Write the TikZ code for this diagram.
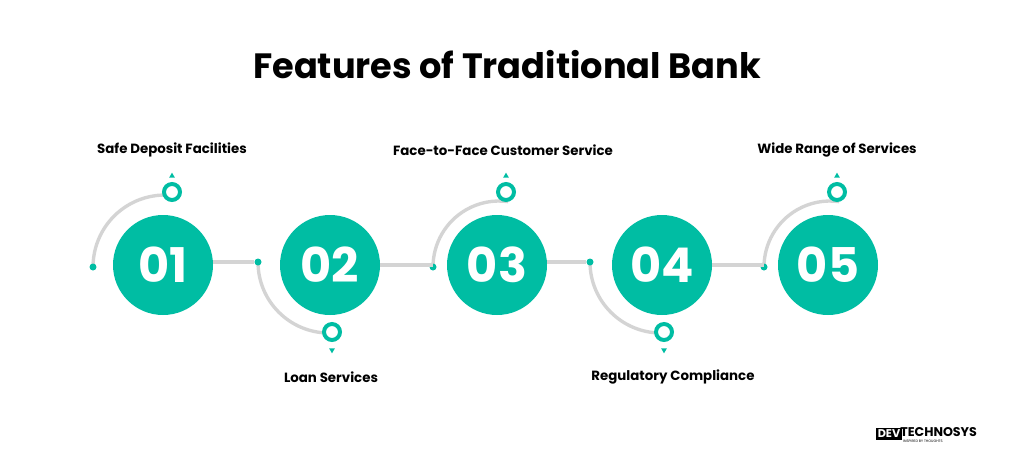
\documentclass[tikz,border=0pt]{standalone}
\usepackage{fontspec}
\setmainfont{Poppins}
\definecolor{teal}{RGB}{0,189,163}
\definecolor{arcgray}{RGB}{212,212,212}
\usetikzlibrary{shapes.geometric}
\tikzset{
  stepnode/.style={circle,fill=teal,minimum size=100*0.25mm,inner sep=0pt,text=white,font=\fontsize{34}{34}\selectfont\bfseries},
  ring/.style={circle,draw=teal,line width=2.8pt,fill=white,minimum size=16*0.25mm,inner sep=0pt},
  dot/.style={circle,fill=teal,minimum size=7*0.25mm,inner sep=0pt},
  tip/.style={isosceles triangle,isosceles triangle apex angle=60,fill=teal,minimum size=5*0.25mm,inner sep=0pt},
  label/.style={font=\fontsize{9.5}{12}\selectfont\bfseries},
  link/.style={arcgray,line width=2.4pt}
}
\begin{document}
\begin{tikzpicture}[x=0.25mm,y=-0.25mm]
\useasboundingbox (0,0) rectangle (1014,459);
\node[font=\fontsize{25}{30}\selectfont\bfseries] (title) at (507,65) {Features of Traditional Bank};
% arcs behind the steps
\foreach \i/\x/\dx in {1/163/70,3/497/64,5/828/64}{
  \draw[link] (\x-\dx,267) arc[start angle=180,end angle=278,radius=\dx+2];
}
\foreach \i/\x in {2/330,4/662}{
  \draw[link] (\x-72,262) arc[start angle=180,end angle=90,radius=71];
}
% steps
\foreach \i/\x in {1/163,2/330,3/497,4/662,5/828}{
  \node[stepnode] (s\i) at (\x,265) {0\i};
}
\foreach \i/\x/\dx in {1/163/70,3/497/64,5/828/64}{
  \node[dot] (d\i) at (\x-\dx,267) {};
  \node[ring] (r\i) at (\x+9,192) {};
  \node[tip,shape border rotate=90] (t\i) at (\x+9,176) {};
}
\foreach \i/\x in {2/330,4/662}{
  \node[dot] (d\i) at (\x-72,262) {};
  \node[ring] (r\i) at (\x+2,332) {};
  \node[tip,shape border rotate=-90] (t\i) at (\x+2,350) {};
}
% links
\draw[link] (s1.east |- d2) -- (d2);
\draw[link] (s2.east) -- (d3 |- s2.east);
\draw[link] (s3.east |- d4) -- (d4);
\draw[link] (s4.east) -- (d5 |- s4.east);
% labels
\node[label] (l1) at (172,150) {Safe Deposit Facilities};
\node[label] (l2) at (331,377) {Loan Services};
\node[label] (l3) at (503,150) {Face-to-Face Customer Service};
\node[label] (l4) at (673,377) {Regulatory Compliance};
\node[label] (l5) at (837,150) {Wide Range of Services};
% logo
\node[fill=black,text=white,font=\fontsize{8}{8}\selectfont\bfseries,inner sep=1.5pt] (dev) at (889,434) {DEV};
\node[anchor=west,font=\fontsize{9}{9}\selectfont\bfseries,inner sep=0pt] (tech) at (900,432) {TECHNOSYS};
\node[anchor=north west,font=\fontsize{2.5}{3}\selectfont,inner sep=0pt] (tag) at (903,440) {INSPIRED BY THOUGHTS};
\end{tikzpicture}
\end{document}
